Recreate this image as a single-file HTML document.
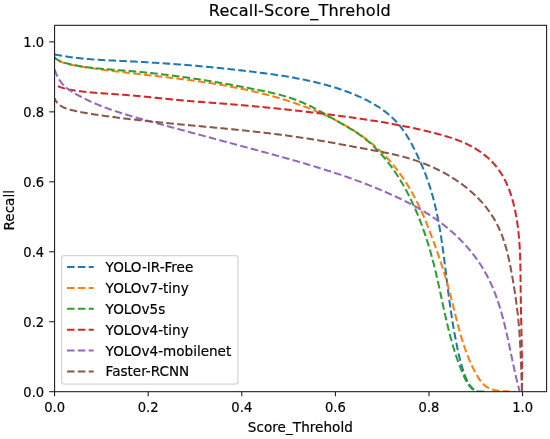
<!DOCTYPE html>
<html><head><meta charset="utf-8"><title>Recall-Score_Threhold</title>
<style>
html,body{margin:0;padding:0;background:#fff;}
svg{display:block;}
text{font-family:"DejaVu Sans","Liberation Sans",sans-serif;fill:#000;stroke:#000;stroke-width:0.18px;}
</style></head><body>
<svg width="550" height="439" viewBox="0 0 550 439">
<rect x="0" y="0" width="550" height="439" fill="#ffffff"/>
<defs><clipPath id="ax"><rect x="54.6" y="25.3" width="492.0" height="366.4"/></clipPath></defs>

<g clip-path="url(#ax)" fill="none" stroke-width="2.03" stroke-dasharray="7.55 3.30" stroke-linejoin="round">
<path d="M54.60,54.40 L56.05,54.70 L57.52,54.99 L59.00,55.27 L60.47,55.54 L61.94,55.80 L63.42,56.05 L64.90,56.29 L66.38,56.53 L67.86,56.75 L69.34,56.96 L70.82,57.17 L72.30,57.37 L73.79,57.56 L75.27,57.74 L76.76,57.92 L78.24,58.08 L79.73,58.24 L81.22,58.40 L82.71,58.55 L84.20,58.69 L85.69,58.82 L87.18,58.95 L88.68,59.08 L90.17,59.20 L91.66,59.31 L93.16,59.42 L94.65,59.53 L96.15,59.63 L97.64,59.73 L99.14,59.82 L100.64,59.91 L102.13,60.00 L103.63,60.08 L105.13,60.16 L106.63,60.24 L108.13,60.32 L109.62,60.40 L111.12,60.47 L112.62,60.54 L114.12,60.61 L115.62,60.68 L117.12,60.75 L118.62,60.82 L120.12,60.89 L121.61,60.96 L123.11,61.03 L124.61,61.10 L126.11,61.17 L127.61,61.24 L129.11,61.31 L130.60,61.38 L132.10,61.46 L133.60,61.54 L135.10,61.61 L136.59,61.69 L138.09,61.77 L139.59,61.85 L141.08,61.94 L142.58,62.02 L144.07,62.10 L145.57,62.19 L147.06,62.28 L148.56,62.36 L150.05,62.45 L151.55,62.54 L153.04,62.64 L154.54,62.73 L156.03,62.82 L157.53,62.92 L159.02,63.02 L160.51,63.12 L162.01,63.21 L163.50,63.32 L164.99,63.42 L166.49,63.52 L167.98,63.63 L169.47,63.73 L170.96,63.84 L172.46,63.95 L173.95,64.06 L175.44,64.17 L176.93,64.28 L178.42,64.39 L179.92,64.51 L181.41,64.62 L182.90,64.74 L184.39,64.86 L185.88,64.98 L187.37,65.10 L188.86,65.22 L190.35,65.35 L191.84,65.47 L193.33,65.60 L194.82,65.73 L196.31,65.86 L197.80,65.99 L199.29,66.12 L200.78,66.25 L202.27,66.39 L203.76,66.52 L205.25,66.66 L206.74,66.80 L208.23,66.94 L209.72,67.08 L211.21,67.22 L212.70,67.37 L214.19,67.51 L215.68,67.66 L217.17,67.81 L218.66,67.96 L220.14,68.11 L221.63,68.26 L223.12,68.41 L224.61,68.57 L226.10,68.73 L227.59,68.88 L229.07,69.04 L230.56,69.21 L232.05,69.37 L233.54,69.53 L235.03,69.70 L236.52,69.86 L238.00,70.03 L239.49,70.20 L240.98,70.37 L242.47,70.54 L243.96,70.72 L245.44,70.89 L246.93,71.07 L248.42,71.25 L249.91,71.43 L251.40,71.61 L252.88,71.79 L254.37,71.98 L255.86,72.16 L257.35,72.35 L258.83,72.54 L260.32,72.73 L261.81,72.92 L263.30,73.12 L264.78,73.31 L266.27,73.51 L267.76,73.71 L269.24,73.91 L270.73,74.12 L272.22,74.33 L273.70,74.54 L275.19,74.75 L276.67,74.97 L278.15,75.19 L279.64,75.42 L281.12,75.64 L282.60,75.87 L284.08,76.11 L285.56,76.35 L287.04,76.59 L288.52,76.84 L290.00,77.09 L291.48,77.34 L292.95,77.60 L294.43,77.86 L295.90,78.13 L297.37,78.41 L298.85,78.69 L300.32,78.97 L301.79,79.26 L303.25,79.55 L304.72,79.85 L306.19,80.16 L307.65,80.47 L309.11,80.78 L310.57,81.11 L312.03,81.44 L313.49,81.77 L314.95,82.11 L316.40,82.46 L317.86,82.82 L319.31,83.18 L320.76,83.55 L322.21,83.92 L323.65,84.30 L325.10,84.69 L326.54,85.09 L327.98,85.50 L329.42,85.91 L330.86,86.33 L332.29,86.76 L333.72,87.19 L335.15,87.64 L336.58,88.09 L338.01,88.55 L339.43,89.02 L340.85,89.49 L342.27,89.98 L343.69,90.48 L345.10,90.98 L346.51,91.50 L347.92,92.02 L349.33,92.55 L350.73,93.09 L352.13,93.64 L353.53,94.21 L354.92,94.78 L356.31,95.36 L357.69,95.96 L359.07,96.56 L360.44,97.18 L361.81,97.81 L363.17,98.45 L364.52,99.10 L365.86,99.77 L367.20,100.44 L368.53,101.14 L369.85,101.84 L371.16,102.56 L372.46,103.29 L373.75,104.04 L375.04,104.80 L376.31,105.58 L377.57,106.37 L378.81,107.17 L380.05,107.99 L381.27,108.83 L382.49,109.69 L383.68,110.56 L384.87,111.44 L386.04,112.35 L387.19,113.27 L388.34,114.20 L389.46,115.16 L390.57,116.13 L391.67,117.12 L392.74,118.13 L393.81,119.16 L394.85,120.21 L395.88,121.28 L396.88,122.37 L397.87,123.47 L398.84,124.60 L399.80,125.75 L400.73,126.91 L401.64,128.10 L402.54,129.30 L403.42,130.52 L404.28,131.76 L405.12,133.01 L405.95,134.28 L406.77,135.55 L407.57,136.85 L408.35,138.15 L409.12,139.46 L409.88,140.79 L410.63,142.12 L411.36,143.46 L412.08,144.81 L412.79,146.16 L413.49,147.52 L414.18,148.89 L414.86,150.26 L415.53,151.63 L416.19,153.00 L416.85,154.37 L417.49,155.74 L418.13,157.11 L418.77,158.49 L419.39,159.86 L420.01,161.23 L420.62,162.60 L421.22,163.97 L421.81,165.34 L422.40,166.71 L422.98,168.09 L423.54,169.46 L424.11,170.84 L424.66,172.22 L425.20,173.60 L425.74,174.98 L426.26,176.37 L426.78,177.76 L427.28,179.15 L427.78,180.54 L428.27,181.94 L428.75,183.34 L429.22,184.75 L429.68,186.15 L430.13,187.57 L430.57,188.98 L431.00,190.40 L431.43,191.82 L431.84,193.24 L432.25,194.67 L432.65,196.10 L433.04,197.54 L433.42,198.97 L433.80,200.41 L434.17,201.85 L434.53,203.30 L434.88,204.74 L435.23,206.19 L435.57,207.64 L435.90,209.10 L436.23,210.56 L436.54,212.01 L436.86,213.47 L437.16,214.94 L437.46,216.40 L437.76,217.87 L438.05,219.34 L438.33,220.81 L438.61,222.28 L438.88,223.76 L439.15,225.23 L439.41,226.71 L439.67,228.19 L439.92,229.67 L440.17,231.15 L440.42,232.63 L440.65,234.12 L440.89,235.61 L441.12,237.09 L441.35,238.58 L441.57,240.07 L441.79,241.56 L442.01,243.05 L442.23,244.54 L442.44,246.03 L442.64,247.53 L442.85,249.02 L443.05,250.52 L443.25,252.01 L443.45,253.51 L443.65,255.00 L443.84,256.50 L444.03,258.00 L444.22,259.49 L444.41,260.99 L444.60,262.49 L444.78,263.98 L444.97,265.48 L445.15,266.98 L445.34,268.47 L445.52,269.97 L445.70,271.46 L445.88,272.96 L446.06,274.45 L446.25,275.95 L446.43,277.44 L446.61,278.93 L446.79,280.43 L446.97,281.92 L447.16,283.41 L447.34,284.90 L447.53,286.39 L447.71,287.88 L447.90,289.36 L448.09,290.85 L448.28,292.33 L448.47,293.82 L448.67,295.30 L448.86,296.78 L449.06,298.26 L449.26,299.74 L449.46,301.22 L449.67,302.69 L449.87,304.17 L450.08,305.64 L450.29,307.12 L450.51,308.59 L450.72,310.06 L450.94,311.54 L451.16,313.01 L451.38,314.48 L451.61,315.95 L451.84,317.42 L452.07,318.89 L452.30,320.35 L452.54,321.82 L452.78,323.29 L453.02,324.76 L453.27,326.22 L453.52,327.69 L453.77,329.16 L454.03,330.62 L454.29,332.09 L454.55,333.55 L454.81,335.02 L455.08,336.49 L455.36,337.95 L455.64,339.42 L455.92,340.88 L456.20,342.35 L456.49,343.81 L456.78,345.28 L457.08,346.75 L457.38,348.21 L457.69,349.68 L458.01,351.15 L458.33,352.61 L458.66,354.08 L459.00,355.54 L459.35,357.01 L459.71,358.47 L460.08,359.94 L460.46,361.40 L460.86,362.87 L461.27,364.33 L461.70,365.79 L462.13,367.25 L462.59,368.71 L463.06,370.17 L463.55,371.63 L464.06,373.09 L464.58,374.55 L465.13,376.00 L465.70,377.44 L466.31,378.85 L466.94,380.24 L467.62,381.60 L468.33,382.90 L469.10,384.16 L469.91,385.35 L470.78,386.48 L471.71,387.52 L472.70,388.48 L473.77,389.35 L474.90,390.12 L476.11,390.77 L477.40,391.31 L478.78,391.70 L480.24,391.70 L481.80,391.70 L483.46,391.70 L485.22,391.70" stroke="#1f77b4"/>
<path d="M54.60,56.99 L55.50,58.18 L56.56,59.22 L57.71,60.11 L58.95,60.88 L60.27,61.55 L61.64,62.12 L63.05,62.63 L64.50,63.07 L65.97,63.47 L67.44,63.85 L68.91,64.21 L70.38,64.56 L71.86,64.89 L73.33,65.20 L74.80,65.50 L76.28,65.79 L77.75,66.07 L79.23,66.33 L80.71,66.59 L82.18,66.83 L83.66,67.07 L85.14,67.30 L86.62,67.52 L88.10,67.74 L89.57,67.95 L91.05,68.16 L92.53,68.37 L94.01,68.57 L95.49,68.77 L96.98,68.97 L98.46,69.17 L99.94,69.37 L101.42,69.56 L102.90,69.76 L104.38,69.95 L105.87,70.14 L107.35,70.33 L108.83,70.51 L110.32,70.70 L111.80,70.88 L113.29,71.07 L114.77,71.25 L116.26,71.43 L117.74,71.61 L119.23,71.79 L120.71,71.96 L122.20,72.14 L123.69,72.31 L125.17,72.49 L126.66,72.66 L128.15,72.84 L129.63,73.01 L131.12,73.18 L132.61,73.35 L134.09,73.52 L135.58,73.69 L137.07,73.86 L138.56,74.03 L140.04,74.20 L141.53,74.37 L143.02,74.54 L144.51,74.71 L146.00,74.88 L147.49,75.05 L148.97,75.22 L150.46,75.39 L151.95,75.56 L153.44,75.73 L154.93,75.91 L156.42,76.08 L157.91,76.25 L159.39,76.42 L160.88,76.60 L162.37,76.77 L163.86,76.95 L165.35,77.12 L166.84,77.30 L168.33,77.48 L169.81,77.66 L171.30,77.84 L172.79,78.02 L174.28,78.20 L175.77,78.38 L177.25,78.57 L178.74,78.76 L180.23,78.94 L181.72,79.13 L183.20,79.33 L184.69,79.52 L186.18,79.71 L187.67,79.91 L189.15,80.11 L190.64,80.31 L192.13,80.51 L193.61,80.72 L195.10,80.92 L196.58,81.13 L198.07,81.34 L199.55,81.55 L201.04,81.77 L202.52,81.99 L204.01,82.21 L205.49,82.43 L206.98,82.66 L208.46,82.89 L209.94,83.12 L211.43,83.35 L212.91,83.59 L214.39,83.83 L215.87,84.07 L217.36,84.31 L218.84,84.56 L220.32,84.81 L221.80,85.07 L223.27,85.32 L224.75,85.59 L226.23,85.85 L227.71,86.12 L229.18,86.39 L230.66,86.66 L232.13,86.94 L233.61,87.22 L235.08,87.51 L236.56,87.80 L238.03,88.09 L239.50,88.39 L240.97,88.69 L242.44,88.99 L243.90,89.30 L245.37,89.61 L246.84,89.93 L248.30,90.25 L249.77,90.57 L251.23,90.90 L252.69,91.23 L254.15,91.57 L255.61,91.91 L257.07,92.26 L258.52,92.61 L259.98,92.96 L261.43,93.32 L262.89,93.68 L264.34,94.05 L265.79,94.43 L267.24,94.80 L268.68,95.19 L270.13,95.58 L271.57,95.97 L273.02,96.37 L274.46,96.77 L275.90,97.18 L277.33,97.59 L278.77,98.01 L280.21,98.43 L281.64,98.86 L283.07,99.30 L284.50,99.74 L285.93,100.18 L287.35,100.64 L288.78,101.09 L290.20,101.55 L291.62,102.02 L293.04,102.50 L294.45,102.98 L295.87,103.46 L297.28,103.95 L298.69,104.45 L300.10,104.95 L301.51,105.46 L302.91,105.98 L304.31,106.50 L305.71,107.03 L307.11,107.56 L308.51,108.10 L309.90,108.65 L311.29,109.21 L312.68,109.77 L314.07,110.33 L315.45,110.91 L316.83,111.49 L318.21,112.07 L319.59,112.67 L320.96,113.27 L322.33,113.87 L323.70,114.49 L325.07,115.11 L326.43,115.74 L327.79,116.37 L329.15,117.02 L330.50,117.67 L331.85,118.33 L333.20,118.99 L334.54,119.67 L335.88,120.35 L337.21,121.04 L338.54,121.73 L339.86,122.44 L341.18,123.15 L342.50,123.87 L343.81,124.60 L345.11,125.34 L346.41,126.09 L347.70,126.84 L348.99,127.61 L350.27,128.38 L351.55,129.16 L352.82,129.95 L354.09,130.75 L355.34,131.56 L356.60,132.37 L357.84,133.20 L359.08,134.04 L360.31,134.88 L361.53,135.74 L362.75,136.60 L363.96,137.47 L365.16,138.36 L366.35,139.25 L367.54,140.16 L368.72,141.07 L369.89,141.99 L371.05,142.93 L372.20,143.87 L373.35,144.82 L374.48,145.79 L375.61,146.76 L376.73,147.75 L377.83,148.75 L378.93,149.75 L380.02,150.77 L381.10,151.80 L382.17,152.84 L383.23,153.89 L384.28,154.96 L385.32,156.03 L386.35,157.11 L387.37,158.21 L388.38,159.31 L389.38,160.43 L390.37,161.56 L391.34,162.69 L392.31,163.84 L393.27,164.99 L394.22,166.16 L395.16,167.33 L396.09,168.51 L397.01,169.70 L397.92,170.90 L398.82,172.11 L399.70,173.32 L400.58,174.55 L401.45,175.78 L402.31,177.01 L403.16,178.26 L404.01,179.51 L404.84,180.77 L405.66,182.03 L406.47,183.30 L407.27,184.58 L408.06,185.86 L408.85,187.15 L409.62,188.45 L410.38,189.74 L411.14,191.05 L411.88,192.36 L412.62,193.67 L413.34,194.99 L414.06,196.31 L414.77,197.64 L415.46,198.97 L416.15,200.30 L416.83,201.64 L417.50,202.98 L418.16,204.32 L418.81,205.66 L419.46,207.01 L420.09,208.36 L420.72,209.72 L421.33,211.07 L421.94,212.43 L422.55,213.79 L423.14,215.15 L423.73,216.52 L424.32,217.89 L424.89,219.26 L425.46,220.63 L426.03,222.01 L426.59,223.39 L427.14,224.77 L427.69,226.15 L428.24,227.53 L428.78,228.92 L429.32,230.30 L429.85,231.69 L430.38,233.09 L430.91,234.48 L431.44,235.88 L431.96,237.27 L432.48,238.67 L433.00,240.07 L433.52,241.48 L434.03,242.88 L434.54,244.29 L435.05,245.70 L435.55,247.10 L436.05,248.52 L436.55,249.93 L437.05,251.34 L437.54,252.76 L438.03,254.18 L438.52,255.60 L439.00,257.02 L439.48,258.44 L439.96,259.86 L440.43,261.29 L440.90,262.71 L441.37,264.14 L441.83,265.57 L442.29,267.00 L442.75,268.43 L443.20,269.87 L443.65,271.30 L444.09,272.74 L444.53,274.18 L444.97,275.61 L445.40,277.05 L445.83,278.50 L446.25,279.94 L446.67,281.38 L447.09,282.83 L447.50,284.27 L447.91,285.72 L448.31,287.17 L448.71,288.62 L449.10,290.07 L449.49,291.52 L449.87,292.97 L450.25,294.42 L450.63,295.88 L451.00,297.33 L451.37,298.79 L451.74,300.24 L452.10,301.70 L452.47,303.16 L452.83,304.61 L453.19,306.07 L453.55,307.53 L453.90,308.98 L454.26,310.44 L454.62,311.89 L454.98,313.35 L455.34,314.80 L455.70,316.26 L456.06,317.71 L456.43,319.16 L456.80,320.61 L457.17,322.07 L457.54,323.51 L457.92,324.96 L458.30,326.41 L458.68,327.85 L459.07,329.30 L459.47,330.74 L459.87,332.18 L460.27,333.61 L460.68,335.05 L461.10,336.48 L461.52,337.91 L461.96,339.34 L462.40,340.77 L462.84,342.19 L463.30,343.61 L463.76,345.03 L464.23,346.45 L464.72,347.86 L465.21,349.27 L465.71,350.68 L466.22,352.08 L466.75,353.48 L467.28,354.87 L467.83,356.27 L468.38,357.65 L468.95,359.04 L469.54,360.42 L470.13,361.80 L470.74,363.17 L471.36,364.54 L472.00,365.90 L472.65,367.26 L473.32,368.61 L474.00,369.96 L474.70,371.31 L475.41,372.65 L476.14,373.98 L476.89,375.31 L477.66,376.62 L478.45,377.92 L479.28,379.18 L480.13,380.41 L481.03,381.60 L481.97,382.73 L482.96,383.82 L483.99,384.84 L485.08,385.79 L486.23,386.67 L487.45,387.46 L488.72,388.16 L490.07,388.77 L491.49,389.27 L492.97,389.69 L494.49,390.03 L496.04,390.31 L497.60,390.54 L499.16,390.73 L500.71,390.90 L502.25,391.04 L503.77,391.16 L505.28,391.26 L506.78,391.35 L508.27,391.43 L509.74,391.50 L511.20,391.57 L512.65,391.63 L514.09,391.69 L515.53,391.70" stroke="#ff7f0e" stroke-dashoffset="5.4"/>
<path d="M54.60,57.77 L55.73,58.66 L56.98,59.46 L58.28,60.18 L59.61,60.83 L60.97,61.42 L62.36,61.96 L63.77,62.44 L65.19,62.89 L66.63,63.31 L68.08,63.70 L69.53,64.07 L70.99,64.42 L72.46,64.74 L73.93,65.05 L75.41,65.34 L76.89,65.62 L78.37,65.88 L79.85,66.13 L81.34,66.36 L82.82,66.59 L84.31,66.81 L85.79,67.02 L87.28,67.22 L88.76,67.41 L90.25,67.60 L91.73,67.77 L93.22,67.94 L94.70,68.11 L96.19,68.27 L97.68,68.42 L99.16,68.56 L100.65,68.71 L102.14,68.84 L103.63,68.98 L105.11,69.11 L106.60,69.23 L108.09,69.35 L109.58,69.47 L111.07,69.59 L112.56,69.71 L114.05,69.82 L115.54,69.94 L117.03,70.05 L118.52,70.16 L120.01,70.28 L121.50,70.39 L122.99,70.51 L124.48,70.63 L125.97,70.74 L127.47,70.86 L128.96,70.99 L130.45,71.11 L131.94,71.24 L133.44,71.37 L134.93,71.51 L136.42,71.64 L137.92,71.78 L139.41,71.92 L140.90,72.06 L142.40,72.20 L143.89,72.35 L145.38,72.50 L146.88,72.65 L148.37,72.80 L149.87,72.96 L151.36,73.12 L152.85,73.28 L154.35,73.44 L155.84,73.61 L157.33,73.77 L158.82,73.94 L160.32,74.12 L161.81,74.29 L163.30,74.47 L164.79,74.64 L166.28,74.82 L167.77,75.01 L169.26,75.19 L170.75,75.38 L172.24,75.57 L173.73,75.76 L175.22,75.95 L176.71,76.15 L178.19,76.35 L179.68,76.55 L181.16,76.75 L182.65,76.95 L184.13,77.16 L185.62,77.37 L187.10,77.58 L188.58,77.79 L190.07,78.01 L191.55,78.22 L193.03,78.44 L194.51,78.66 L195.99,78.89 L197.47,79.11 L198.95,79.34 L200.43,79.57 L201.91,79.80 L203.38,80.03 L204.86,80.27 L206.34,80.50 L207.81,80.74 L209.29,80.98 L210.77,81.22 L212.24,81.47 L213.72,81.71 L215.19,81.96 L216.67,82.21 L218.14,82.46 L219.61,82.71 L221.09,82.97 L222.56,83.23 L224.04,83.48 L225.51,83.75 L226.98,84.01 L228.45,84.27 L229.93,84.54 L231.40,84.80 L232.87,85.07 L234.34,85.34 L235.81,85.61 L237.29,85.89 L238.76,86.16 L240.23,86.44 L241.70,86.72 L243.17,87.00 L244.64,87.28 L246.11,87.56 L247.59,87.85 L249.06,88.14 L250.53,88.42 L252.00,88.71 L253.47,89.00 L254.94,89.30 L256.41,89.59 L257.89,89.89 L259.36,90.18 L260.83,90.48 L262.30,90.79 L263.77,91.09 L265.24,91.40 L266.71,91.72 L268.18,92.04 L269.64,92.36 L271.11,92.70 L272.57,93.04 L274.03,93.38 L275.49,93.74 L276.94,94.10 L278.40,94.47 L279.85,94.85 L281.30,95.24 L282.74,95.64 L284.18,96.06 L285.62,96.48 L287.06,96.91 L288.49,97.36 L289.92,97.82 L291.34,98.29 L292.76,98.77 L294.17,99.27 L295.58,99.78 L296.98,100.30 L298.38,100.83 L299.77,101.38 L301.15,101.94 L302.53,102.52 L303.90,103.11 L305.27,103.71 L306.63,104.33 L307.98,104.97 L309.32,105.62 L310.66,106.28 L311.99,106.95 L313.31,107.64 L314.63,108.34 L315.95,109.04 L317.26,109.76 L318.57,110.48 L319.87,111.21 L321.18,111.95 L322.48,112.69 L323.78,113.44 L325.08,114.18 L326.38,114.93 L327.68,115.68 L328.97,116.43 L330.28,117.18 L331.58,117.93 L332.88,118.67 L334.19,119.41 L335.50,120.15 L336.82,120.89 L338.13,121.62 L339.44,122.35 L340.75,123.09 L342.06,123.83 L343.37,124.57 L344.68,125.31 L345.98,126.06 L347.28,126.81 L348.57,127.57 L349.86,128.34 L351.14,129.12 L352.42,129.91 L353.68,130.70 L354.94,131.51 L356.19,132.33 L357.43,133.17 L358.66,134.02 L359.88,134.88 L361.09,135.76 L362.28,136.66 L363.47,137.57 L364.64,138.49 L365.80,139.43 L366.96,140.38 L368.10,141.34 L369.23,142.32 L370.34,143.31 L371.45,144.32 L372.55,145.33 L373.63,146.36 L374.71,147.40 L375.77,148.45 L376.83,149.52 L377.87,150.59 L378.90,151.68 L379.92,152.78 L380.93,153.88 L381.92,155.00 L382.91,156.13 L383.89,157.26 L384.85,158.41 L385.81,159.57 L386.75,160.73 L387.68,161.90 L388.60,163.08 L389.51,164.27 L390.41,165.47 L391.30,166.67 L392.18,167.89 L393.05,169.10 L393.91,170.33 L394.75,171.56 L395.59,172.80 L396.42,174.05 L397.24,175.30 L398.05,176.56 L398.85,177.82 L399.64,179.10 L400.42,180.37 L401.19,181.65 L401.95,182.94 L402.71,184.23 L403.45,185.52 L404.19,186.82 L404.92,188.13 L405.64,189.44 L406.36,190.75 L407.06,192.07 L407.76,193.40 L408.45,194.72 L409.13,196.06 L409.80,197.39 L410.46,198.73 L411.12,200.08 L411.77,201.43 L412.41,202.78 L413.04,204.14 L413.67,205.50 L414.29,206.86 L414.90,208.23 L415.50,209.60 L416.10,210.97 L416.69,212.35 L417.27,213.73 L417.85,215.12 L418.41,216.50 L418.98,217.89 L419.53,219.29 L420.08,220.68 L420.62,222.08 L421.15,223.49 L421.68,224.89 L422.20,226.30 L422.71,227.71 L423.22,229.12 L423.72,230.54 L424.22,231.96 L424.71,233.38 L425.19,234.80 L425.67,236.22 L426.14,237.65 L426.60,239.08 L427.06,240.51 L427.51,241.94 L427.96,243.38 L428.40,244.81 L428.84,246.25 L429.27,247.69 L429.69,249.13 L430.11,250.57 L430.52,252.02 L430.93,253.46 L431.33,254.91 L431.73,256.36 L432.12,257.81 L432.51,259.26 L432.89,260.71 L433.27,262.16 L433.65,263.61 L434.01,265.06 L434.38,266.52 L434.74,267.97 L435.09,269.42 L435.44,270.88 L435.79,272.33 L436.13,273.79 L436.47,275.25 L436.80,276.70 L437.14,278.16 L437.47,279.62 L437.79,281.08 L438.12,282.54 L438.44,283.99 L438.76,285.45 L439.08,286.91 L439.40,288.37 L439.71,289.83 L440.03,291.29 L440.34,292.75 L440.65,294.21 L440.96,295.67 L441.28,297.13 L441.59,298.59 L441.90,300.05 L442.21,301.51 L442.52,302.97 L442.84,304.43 L443.15,305.88 L443.46,307.34 L443.78,308.80 L444.10,310.26 L444.42,311.72 L444.74,313.17 L445.06,314.63 L445.39,316.09 L445.72,317.54 L446.05,319.00 L446.39,320.46 L446.72,321.91 L447.06,323.37 L447.41,324.82 L447.76,326.27 L448.11,327.72 L448.47,329.18 L448.83,330.63 L449.20,332.08 L449.57,333.53 L449.94,334.98 L450.32,336.42 L450.71,337.87 L451.10,339.32 L451.50,340.76 L451.91,342.21 L452.32,343.65 L452.74,345.09 L453.16,346.54 L453.59,347.98 L454.03,349.41 L454.48,350.85 L454.93,352.29 L455.40,353.73 L455.87,355.16 L456.35,356.59 L456.83,358.03 L457.33,359.46 L457.83,360.89 L458.35,362.31 L458.87,363.74 L459.40,365.17 L459.94,366.59 L460.50,368.01 L461.06,369.43 L461.63,370.85 L462.21,372.27 L462.81,373.69 L463.41,375.10 L464.03,376.51 L464.67,377.90 L465.33,379.27 L466.02,380.61 L466.74,381.92 L467.49,383.18 L468.29,384.39 L469.12,385.55 L470.01,386.64 L470.94,387.67 L471.93,388.61 L472.98,389.47 L474.09,390.24 L475.27,390.91 L476.52,391.47 L477.85,391.70 L479.25,391.70 L480.74,391.70 L482.32,391.70 L483.99,391.70 L485.75,391.70 L487.62,391.70" stroke="#2ca02c"/>
<path d="M54.60,85.00 L55.97,85.57 L57.37,86.11 L58.78,86.62 L60.20,87.10 L61.62,87.55 L63.06,87.97 L64.50,88.36 L65.94,88.73 L67.40,89.08 L68.85,89.41 L70.32,89.71 L71.79,89.99 L73.26,90.26 L74.74,90.51 L76.22,90.74 L77.70,90.96 L79.19,91.16 L80.67,91.35 L82.17,91.53 L83.66,91.70 L85.15,91.86 L86.65,92.01 L88.14,92.15 L89.64,92.30 L91.13,92.43 L92.63,92.56 L94.12,92.69 L95.62,92.81 L97.12,92.93 L98.61,93.05 L100.11,93.16 L101.60,93.27 L103.10,93.38 L104.60,93.49 L106.09,93.60 L107.59,93.70 L109.08,93.80 L110.58,93.91 L112.07,94.01 L113.57,94.11 L115.06,94.21 L116.56,94.32 L118.05,94.42 L119.55,94.53 L121.04,94.63 L122.53,94.74 L124.03,94.85 L125.52,94.97 L127.01,95.09 L128.51,95.21 L130.00,95.33 L131.49,95.45 L132.98,95.58 L134.47,95.71 L135.96,95.85 L137.46,95.98 L138.95,96.12 L140.44,96.26 L141.93,96.40 L143.42,96.54 L144.91,96.69 L146.40,96.84 L147.89,96.98 L149.38,97.13 L150.87,97.28 L152.36,97.43 L153.85,97.58 L155.34,97.73 L156.83,97.88 L158.32,98.03 L159.81,98.19 L161.30,98.34 L162.79,98.49 L164.28,98.64 L165.77,98.79 L167.26,98.94 L168.75,99.09 L170.24,99.24 L171.74,99.38 L173.23,99.53 L174.72,99.68 L176.21,99.82 L177.70,99.96 L179.19,100.10 L180.69,100.24 L182.18,100.37 L183.67,100.51 L185.16,100.64 L186.66,100.77 L188.15,100.90 L189.65,101.02 L191.14,101.15 L192.63,101.27 L194.13,101.40 L195.62,101.52 L197.12,101.64 L198.61,101.76 L200.11,101.88 L201.60,101.99 L203.10,102.11 L204.59,102.23 L206.09,102.34 L207.58,102.46 L209.08,102.57 L210.57,102.69 L212.07,102.80 L213.56,102.92 L215.06,103.03 L216.55,103.15 L218.05,103.26 L219.54,103.38 L221.04,103.49 L222.53,103.61 L224.03,103.73 L225.52,103.84 L227.02,103.96 L228.51,104.08 L230.01,104.20 L231.50,104.32 L232.99,104.44 L234.49,104.57 L235.98,104.69 L237.48,104.82 L238.97,104.94 L240.46,105.07 L241.96,105.20 L243.45,105.33 L244.94,105.46 L246.43,105.59 L247.93,105.72 L249.42,105.86 L250.91,105.99 L252.40,106.13 L253.90,106.26 L255.39,106.40 L256.88,106.54 L258.37,106.68 L259.86,106.82 L261.35,106.96 L262.85,107.10 L264.34,107.25 L265.83,107.39 L267.32,107.54 L268.81,107.69 L270.30,107.84 L271.79,107.99 L273.28,108.14 L274.77,108.29 L276.26,108.44 L277.75,108.59 L279.24,108.75 L280.73,108.90 L282.22,109.06 L283.71,109.22 L285.20,109.38 L286.69,109.53 L288.18,109.70 L289.67,109.86 L291.16,110.02 L292.64,110.18 L294.13,110.35 L295.62,110.51 L297.11,110.68 L298.60,110.85 L300.09,111.02 L301.57,111.19 L303.06,111.36 L304.55,111.53 L306.04,111.70 L307.53,111.88 L309.01,112.05 L310.50,112.23 L311.99,112.40 L313.48,112.58 L314.96,112.76 L316.45,112.94 L317.94,113.12 L319.43,113.30 L320.91,113.48 L322.40,113.67 L323.89,113.85 L325.37,114.04 L326.86,114.23 L328.35,114.41 L329.83,114.60 L331.32,114.79 L332.80,114.98 L334.29,115.17 L335.78,115.37 L337.26,115.56 L338.75,115.75 L340.23,115.95 L341.72,116.15 L343.21,116.35 L344.69,116.54 L346.18,116.75 L347.66,116.95 L349.15,117.15 L350.63,117.36 L352.12,117.56 L353.60,117.77 L355.08,117.98 L356.57,118.19 L358.05,118.40 L359.53,118.62 L361.02,118.83 L362.50,119.05 L363.98,119.27 L365.46,119.49 L366.95,119.72 L368.43,119.94 L369.91,120.17 L371.39,120.40 L372.87,120.64 L374.35,120.87 L375.83,121.11 L377.31,121.35 L378.79,121.59 L380.26,121.83 L381.74,122.08 L383.22,122.33 L384.70,122.58 L386.17,122.84 L387.65,123.10 L389.12,123.36 L390.60,123.62 L392.07,123.89 L393.54,124.16 L395.02,124.43 L396.49,124.70 L397.96,124.98 L399.43,125.26 L400.90,125.55 L402.37,125.84 L403.84,126.13 L405.31,126.42 L406.78,126.72 L408.24,127.02 L409.71,127.33 L411.18,127.63 L412.64,127.95 L414.11,128.26 L415.57,128.58 L417.03,128.90 L418.49,129.23 L419.95,129.56 L421.41,129.90 L422.87,130.24 L424.33,130.58 L425.79,130.92 L427.25,131.28 L428.70,131.63 L430.16,131.99 L431.61,132.35 L433.06,132.72 L434.52,133.09 L435.97,133.47 L437.42,133.85 L438.87,134.24 L440.32,134.63 L441.76,135.03 L443.21,135.43 L444.65,135.85 L446.08,136.27 L447.52,136.70 L448.95,137.14 L450.38,137.60 L451.80,138.06 L453.22,138.54 L454.64,139.03 L456.05,139.53 L457.45,140.05 L458.85,140.59 L460.25,141.14 L461.63,141.71 L463.01,142.29 L464.39,142.90 L465.75,143.52 L467.11,144.16 L468.46,144.82 L469.80,145.51 L471.14,146.21 L472.46,146.94 L473.78,147.69 L475.08,148.47 L476.37,149.26 L477.65,150.08 L478.91,150.91 L480.16,151.77 L481.40,152.65 L482.62,153.55 L483.82,154.47 L485.01,155.41 L486.17,156.37 L487.32,157.35 L488.45,158.35 L489.55,159.37 L490.64,160.41 L491.70,161.47 L492.74,162.54 L493.75,163.64 L494.74,164.76 L495.70,165.89 L496.64,167.05 L497.55,168.22 L498.43,169.41 L499.29,170.61 L500.12,171.83 L500.93,173.07 L501.72,174.33 L502.48,175.59 L503.22,176.88 L503.93,178.17 L504.63,179.48 L505.30,180.81 L505.95,182.14 L506.58,183.49 L507.18,184.85 L507.77,186.22 L508.34,187.60 L508.89,188.99 L509.42,190.38 L509.93,191.79 L510.43,193.21 L510.91,194.63 L511.37,196.06 L511.81,197.50 L512.24,198.94 L512.65,200.39 L513.04,201.84 L513.43,203.30 L513.79,204.77 L514.15,206.23 L514.48,207.70 L514.81,209.18 L515.13,210.65 L515.43,212.13 L515.72,213.60 L516.00,215.08 L516.26,216.56 L516.52,218.04 L516.76,219.52 L517.00,221.00 L517.22,222.49 L517.44,223.97 L517.64,225.46 L517.84,226.94 L518.02,228.43 L518.20,229.92 L518.37,231.41 L518.53,232.89 L518.68,234.38 L518.82,235.88 L518.96,237.37 L519.09,238.86 L519.21,240.35 L519.32,241.85 L519.42,243.34 L519.52,244.83 L519.62,246.33 L519.71,247.83 L519.79,249.32 L519.86,250.82 L519.93,252.32 L520.00,253.81 L520.06,255.31 L520.11,256.81 L520.17,258.31 L520.21,259.81 L520.26,261.31 L520.30,262.81 L520.33,264.31 L520.37,265.81 L520.40,267.31 L520.42,268.81 L520.45,270.31 L520.47,271.81 L520.49,273.31 L520.51,274.81 L520.53,276.31 L520.55,277.81 L520.56,279.31 L520.58,280.81 L520.59,282.31 L520.61,283.81 L520.62,285.32 L520.64,286.82 L520.65,288.32 L520.67,289.82 L520.68,291.32 L520.70,292.82 L520.72,294.32 L520.74,295.82 L520.76,297.31 L520.79,298.81 L520.81,300.31 L520.84,301.81 L520.86,303.31 L520.89,304.81 L520.91,306.31 L520.94,307.80 L520.97,309.30 L521.00,310.80 L521.03,312.30 L521.06,313.80 L521.09,315.29 L521.12,316.79 L521.15,318.29 L521.18,319.78 L521.21,321.28 L521.24,322.78 L521.28,324.28 L521.31,325.77 L521.34,327.27 L521.37,328.77 L521.40,330.26 L521.44,331.76 L521.47,333.26 L521.50,334.75 L521.53,336.25 L521.56,337.75 L521.59,339.24 L521.62,340.74 L521.65,342.24 L521.68,343.74 L521.71,345.23 L521.73,346.73 L521.76,348.23 L521.79,349.72 L521.81,351.22 L521.84,352.72 L521.86,354.22 L521.88,355.71 L521.91,357.21 L521.93,358.71 L521.95,360.21 L521.96,361.71 L521.98,363.20 L522.00,364.70 L522.01,366.20 L522.02,367.70 L522.04,369.20 L522.05,370.70 L522.06,372.20 L522.06,373.70 L522.07,375.20 L522.07,376.70 L522.07,378.20 L522.08,379.70 L522.07,381.20 L522.07,382.70 L522.07,384.20 L522.06,385.70 L522.05,387.21 L522.04,388.71 L522.02,390.21 L522.01,391.70" stroke="#d62728" stroke-dashoffset="7.4"/>
<path d="M54.62,69.50 L55.12,70.92 L55.66,72.32 L56.24,73.72 L56.86,75.11 L57.52,76.47 L58.23,77.81 L58.98,79.12 L59.78,80.40 L60.63,81.63 L61.53,82.83 L62.48,83.97 L63.49,85.07 L64.54,86.11 L65.64,87.11 L66.78,88.06 L67.96,88.97 L69.17,89.84 L70.41,90.69 L71.67,91.51 L72.95,92.30 L74.24,93.07 L75.55,93.82 L76.86,94.57 L78.17,95.30 L79.49,96.01 L80.82,96.72 L82.15,97.41 L83.48,98.09 L84.82,98.77 L86.16,99.43 L87.51,100.08 L88.86,100.71 L90.22,101.34 L91.58,101.96 L92.94,102.57 L94.31,103.17 L95.68,103.76 L97.06,104.33 L98.44,104.91 L99.82,105.47 L101.21,106.02 L102.60,106.57 L103.99,107.10 L105.39,107.63 L106.79,108.15 L108.19,108.67 L109.59,109.17 L111.00,109.67 L112.41,110.16 L113.83,110.65 L115.24,111.13 L116.66,111.60 L118.08,112.07 L119.50,112.53 L120.93,112.99 L122.36,113.44 L123.78,113.89 L125.21,114.33 L126.65,114.77 L128.08,115.20 L129.52,115.63 L130.95,116.06 L132.39,116.48 L133.83,116.89 L135.27,117.31 L136.71,117.72 L138.16,118.13 L139.60,118.54 L141.04,118.94 L142.49,119.34 L143.93,119.74 L145.38,120.14 L146.83,120.54 L148.27,120.94 L149.72,121.33 L151.16,121.73 L152.61,122.12 L154.06,122.52 L155.50,122.91 L156.95,123.30 L158.40,123.70 L159.84,124.09 L161.29,124.48 L162.74,124.87 L164.18,125.26 L165.63,125.66 L167.07,126.05 L168.52,126.44 L169.97,126.83 L171.41,127.22 L172.86,127.61 L174.30,128.00 L175.75,128.39 L177.19,128.78 L178.64,129.17 L180.08,129.56 L181.53,129.95 L182.97,130.34 L184.42,130.72 L185.86,131.11 L187.31,131.50 L188.75,131.89 L190.20,132.28 L191.64,132.67 L193.09,133.05 L194.53,133.44 L195.98,133.83 L197.42,134.22 L198.87,134.60 L200.31,134.99 L201.76,135.38 L203.20,135.77 L204.65,136.15 L206.09,136.54 L207.54,136.93 L208.98,137.31 L210.43,137.70 L211.87,138.09 L213.31,138.47 L214.76,138.86 L216.20,139.25 L217.65,139.64 L219.09,140.02 L220.54,140.41 L221.98,140.80 L223.43,141.18 L224.87,141.57 L226.31,141.96 L227.76,142.34 L229.20,142.73 L230.65,143.12 L232.09,143.51 L233.54,143.89 L234.98,144.28 L236.43,144.67 L237.87,145.06 L239.31,145.45 L240.76,145.83 L242.20,146.22 L243.65,146.61 L245.09,147.00 L246.54,147.39 L247.98,147.78 L249.43,148.17 L250.87,148.56 L252.32,148.95 L253.76,149.34 L255.21,149.73 L256.65,150.12 L258.10,150.51 L259.54,150.90 L260.99,151.29 L262.43,151.68 L263.88,152.07 L265.32,152.46 L266.77,152.86 L268.21,153.25 L269.65,153.64 L271.10,154.04 L272.54,154.43 L273.99,154.83 L275.43,155.23 L276.87,155.62 L278.32,156.02 L279.76,156.42 L281.20,156.82 L282.65,157.22 L284.09,157.63 L285.53,158.03 L286.97,158.43 L288.42,158.84 L289.86,159.25 L291.30,159.65 L292.74,160.06 L294.18,160.47 L295.62,160.89 L297.06,161.30 L298.50,161.72 L299.93,162.13 L301.37,162.55 L302.81,162.97 L304.25,163.39 L305.68,163.82 L307.12,164.24 L308.55,164.67 L309.99,165.10 L311.42,165.53 L312.86,165.96 L314.29,166.40 L315.72,166.83 L317.15,167.27 L318.58,167.71 L320.01,168.16 L321.44,168.60 L322.87,169.05 L324.30,169.50 L325.72,169.95 L327.15,170.41 L328.57,170.87 L330.00,171.33 L331.42,171.79 L332.84,172.25 L334.27,172.72 L335.69,173.19 L337.11,173.66 L338.53,174.14 L339.94,174.62 L341.36,175.10 L342.78,175.58 L344.19,176.07 L345.61,176.56 L347.02,177.05 L348.43,177.55 L349.84,178.05 L351.25,178.55 L352.66,179.06 L354.07,179.57 L355.47,180.08 L356.88,180.60 L358.28,181.12 L359.68,181.64 L361.09,182.16 L362.49,182.69 L363.88,183.23 L365.28,183.76 L366.68,184.30 L368.07,184.85 L369.47,185.40 L370.86,185.95 L372.25,186.50 L373.64,187.06 L375.03,187.63 L376.41,188.20 L377.80,188.77 L379.18,189.34 L380.57,189.92 L381.95,190.51 L383.33,191.10 L384.70,191.69 L386.08,192.28 L387.45,192.89 L388.83,193.49 L390.20,194.10 L391.57,194.72 L392.93,195.34 L394.30,195.96 L395.66,196.59 L397.02,197.23 L398.38,197.87 L399.74,198.51 L401.09,199.16 L402.44,199.82 L403.78,200.48 L405.12,201.15 L406.46,201.83 L407.80,202.51 L409.13,203.20 L410.46,203.89 L411.79,204.59 L413.11,205.30 L414.42,206.01 L415.73,206.74 L417.04,207.46 L418.35,208.20 L419.64,208.94 L420.94,209.69 L422.23,210.45 L423.51,211.22 L424.79,211.99 L426.06,212.77 L427.33,213.56 L428.59,214.36 L429.85,215.17 L431.10,215.98 L432.35,216.81 L433.58,217.64 L434.82,218.48 L436.04,219.33 L437.26,220.19 L438.47,221.06 L439.68,221.94 L440.88,222.82 L442.07,223.72 L443.26,224.63 L444.44,225.55 L445.61,226.47 L446.77,227.41 L447.92,228.36 L449.07,229.31 L450.21,230.28 L451.34,231.26 L452.47,232.25 L453.58,233.25 L454.69,234.26 L455.79,235.28 L456.88,236.31 L457.95,237.35 L459.03,238.40 L460.09,239.46 L461.14,240.53 L462.18,241.61 L463.21,242.70 L464.24,243.79 L465.25,244.90 L466.25,246.02 L467.24,247.14 L468.23,248.28 L469.20,249.42 L470.16,250.57 L471.11,251.73 L472.04,252.90 L472.97,254.08 L473.88,255.27 L474.79,256.46 L475.68,257.66 L476.56,258.88 L477.43,260.09 L478.28,261.32 L479.12,262.56 L479.95,263.80 L480.77,265.05 L481.57,266.31 L482.37,267.57 L483.14,268.85 L483.91,270.13 L484.66,271.41 L485.40,272.71 L486.12,274.01 L486.83,275.32 L487.53,276.63 L488.21,277.95 L488.88,279.28 L489.53,280.62 L490.17,281.96 L490.80,283.30 L491.42,284.66 L492.02,286.02 L492.61,287.38 L493.19,288.75 L493.76,290.12 L494.31,291.51 L494.86,292.89 L495.39,294.28 L495.91,295.68 L496.43,297.08 L496.93,298.48 L497.42,299.89 L497.91,301.30 L498.38,302.72 L498.84,304.14 L499.30,305.57 L499.75,307.00 L500.18,308.43 L500.61,309.87 L501.04,311.31 L501.45,312.75 L501.86,314.20 L502.26,315.65 L502.65,317.10 L503.04,318.55 L503.42,320.01 L503.80,321.47 L504.17,322.93 L504.53,324.39 L504.89,325.86 L505.24,327.32 L505.59,328.79 L505.93,330.26 L506.27,331.74 L506.61,333.21 L506.94,334.68 L507.27,336.16 L507.60,337.63 L507.92,339.11 L508.24,340.59 L508.56,342.06 L508.87,343.54 L509.18,345.02 L509.49,346.50 L509.80,347.97 L510.11,349.45 L510.42,350.93 L510.73,352.40 L511.04,353.88 L511.34,355.35 L511.65,356.83 L511.96,358.30 L512.26,359.77 L512.57,361.24 L512.88,362.71 L513.19,364.18 L513.51,365.64 L513.82,367.10 L514.14,368.56 L514.46,370.02 L514.78,371.48 L515.10,372.93 L515.43,374.38 L515.76,375.83 L516.10,377.27 L516.44,378.72 L516.78,380.16 L517.13,381.59 L517.48,383.02 L517.84,384.45 L518.20,385.88 L518.57,387.30 L518.95,388.71 L519.33,390.12 L519.71,391.53" stroke="#9467bd"/>
<path d="M54.60,98.25 L55.17,99.72 L55.95,101.06 L56.83,102.28 L57.80,103.38 L58.85,104.38 L59.98,105.28 L61.18,106.09 L62.44,106.82 L63.75,107.47 L65.10,108.06 L66.49,108.59 L67.91,109.07 L69.36,109.51 L70.83,109.90 L72.31,110.27 L73.81,110.61 L75.30,110.93 L76.80,111.25 L78.29,111.55 L79.78,111.85 L81.27,112.13 L82.75,112.41 L84.24,112.68 L85.72,112.95 L87.20,113.20 L88.68,113.45 L90.16,113.70 L91.63,113.94 L93.11,114.17 L94.59,114.40 L96.06,114.63 L97.54,114.85 L99.01,115.07 L100.49,115.29 L101.97,115.50 L103.44,115.71 L104.92,115.92 L106.40,116.13 L107.88,116.33 L109.36,116.54 L110.84,116.74 L112.32,116.93 L113.80,117.13 L115.29,117.32 L116.77,117.52 L118.25,117.71 L119.74,117.89 L121.22,118.08 L122.71,118.27 L124.19,118.45 L125.68,118.63 L127.17,118.81 L128.66,118.99 L130.14,119.16 L131.63,119.34 L133.12,119.51 L134.61,119.68 L136.10,119.85 L137.59,120.02 L139.08,120.19 L140.57,120.35 L142.06,120.51 L143.55,120.68 L145.04,120.84 L146.54,121.00 L148.03,121.16 L149.52,121.32 L151.01,121.47 L152.51,121.63 L154.00,121.78 L155.49,121.94 L156.99,122.09 L158.48,122.24 L159.98,122.39 L161.47,122.54 L162.96,122.69 L164.46,122.84 L165.95,122.98 L167.45,123.13 L168.94,123.27 L170.44,123.42 L171.93,123.56 L173.43,123.71 L174.93,123.85 L176.42,123.99 L177.92,124.14 L179.41,124.28 L180.91,124.42 L182.40,124.56 L183.90,124.70 L185.40,124.84 L186.89,124.98 L188.39,125.12 L189.88,125.26 L191.38,125.40 L192.87,125.54 L194.37,125.68 L195.86,125.82 L197.36,125.96 L198.85,126.09 L200.35,126.23 L201.84,126.37 L203.34,126.51 L204.83,126.65 L206.33,126.79 L207.82,126.93 L209.31,127.07 L210.81,127.21 L212.30,127.35 L213.79,127.49 L215.29,127.64 L216.78,127.78 L218.27,127.92 L219.76,128.06 L221.26,128.21 L222.75,128.35 L224.24,128.50 L225.73,128.64 L227.22,128.79 L228.71,128.93 L230.21,129.08 L231.70,129.23 L233.19,129.38 L234.68,129.53 L236.17,129.68 L237.66,129.83 L239.15,129.98 L240.64,130.14 L242.13,130.29 L243.62,130.45 L245.11,130.60 L246.59,130.76 L248.08,130.92 L249.57,131.08 L251.06,131.24 L252.55,131.40 L254.04,131.56 L255.53,131.73 L257.01,131.89 L258.50,132.06 L259.99,132.23 L261.48,132.40 L262.96,132.57 L264.45,132.74 L265.94,132.92 L267.42,133.09 L268.91,133.27 L270.40,133.45 L271.88,133.63 L273.37,133.81 L274.85,134.00 L276.34,134.18 L277.82,134.37 L279.31,134.56 L280.80,134.75 L282.28,134.94 L283.77,135.14 L285.25,135.33 L286.73,135.53 L288.22,135.73 L289.70,135.94 L291.19,136.14 L292.67,136.35 L294.15,136.55 L295.64,136.77 L297.12,136.98 L298.61,137.19 L300.09,137.41 L301.57,137.63 L303.05,137.85 L304.54,138.08 L306.02,138.30 L307.50,138.53 L308.98,138.76 L310.47,139.00 L311.95,139.23 L313.43,139.47 L314.91,139.72 L316.39,139.96 L317.88,140.21 L319.36,140.46 L320.84,140.71 L322.32,140.96 L323.80,141.22 L325.28,141.48 L326.76,141.74 L328.24,142.00 L329.72,142.27 L331.20,142.54 L332.68,142.80 L334.16,143.07 L335.64,143.35 L337.12,143.62 L338.60,143.89 L340.08,144.17 L341.55,144.44 L343.03,144.72 L344.51,144.99 L345.99,145.27 L347.46,145.54 L348.94,145.82 L350.42,146.10 L351.89,146.37 L353.37,146.65 L354.84,146.92 L356.32,147.20 L357.79,147.47 L359.26,147.74 L360.74,148.01 L362.21,148.28 L363.68,148.55 L365.15,148.81 L366.62,149.08 L368.09,149.35 L369.56,149.61 L371.03,149.88 L372.50,150.15 L373.96,150.42 L375.43,150.69 L376.89,150.97 L378.36,151.25 L379.82,151.53 L381.29,151.81 L382.75,152.10 L384.21,152.39 L385.67,152.69 L387.13,152.99 L388.58,153.29 L390.04,153.61 L391.49,153.92 L392.95,154.25 L394.40,154.58 L395.85,154.92 L397.30,155.27 L398.75,155.62 L400.19,155.98 L401.64,156.36 L403.08,156.74 L404.53,157.13 L405.97,157.53 L407.40,157.94 L408.84,158.36 L410.28,158.79 L411.71,159.23 L413.14,159.69 L414.57,160.15 L416.00,160.63 L417.43,161.12 L418.85,161.62 L420.27,162.14 L421.69,162.66 L423.10,163.20 L424.51,163.75 L425.92,164.31 L427.32,164.89 L428.71,165.47 L430.11,166.07 L431.50,166.67 L432.88,167.30 L434.26,167.93 L435.63,168.57 L437.00,169.23 L438.36,169.89 L439.71,170.57 L441.06,171.26 L442.40,171.97 L443.74,172.68 L445.07,173.41 L446.39,174.15 L447.70,174.90 L449.01,175.66 L450.30,176.43 L451.59,177.22 L452.87,178.02 L454.15,178.83 L455.41,179.65 L456.66,180.48 L457.91,181.33 L459.14,182.18 L460.37,183.05 L461.58,183.93 L462.79,184.82 L463.98,185.73 L465.17,186.64 L466.34,187.57 L467.50,188.51 L468.65,189.46 L469.79,190.43 L470.91,191.40 L472.03,192.39 L473.13,193.39 L474.22,194.40 L475.30,195.42 L476.36,196.46 L477.41,197.50 L478.44,198.56 L479.47,199.63 L480.48,200.71 L481.47,201.81 L482.45,202.91 L483.42,204.03 L484.37,205.16 L485.30,206.30 L486.22,207.45 L487.12,208.62 L488.01,209.80 L488.88,210.99 L489.74,212.19 L490.58,213.40 L491.40,214.62 L492.21,215.86 L493.00,217.11 L493.77,218.37 L494.52,219.64 L495.25,220.92 L495.97,222.22 L496.67,223.53 L497.35,224.85 L498.01,226.18 L498.65,227.52 L499.28,228.87 L499.88,230.24 L500.47,231.62 L501.04,233.00 L501.59,234.40 L502.13,235.80 L502.65,237.22 L503.16,238.64 L503.65,240.07 L504.13,241.51 L504.59,242.95 L505.04,244.40 L505.48,245.86 L505.90,247.32 L506.31,248.79 L506.71,250.27 L507.10,251.74 L507.48,253.23 L507.85,254.71 L508.20,256.20 L508.55,257.70 L508.89,259.19 L509.21,260.69 L509.53,262.19 L509.85,263.69 L510.15,265.19 L510.45,266.70 L510.74,268.20 L511.03,269.70 L511.30,271.20 L511.58,272.70 L511.85,274.20 L512.11,275.69 L512.37,277.19 L512.63,278.68 L512.88,280.16 L513.13,281.65 L513.38,283.13 L513.62,284.61 L513.86,286.09 L514.10,287.56 L514.33,289.03 L514.56,290.50 L514.79,291.97 L515.01,293.44 L515.23,294.90 L515.45,296.37 L515.66,297.83 L515.87,299.30 L516.07,300.76 L516.27,302.22 L516.46,303.68 L516.66,305.15 L516.84,306.61 L517.03,308.07 L517.21,309.54 L517.38,311.00 L517.55,312.47 L517.72,313.94 L517.88,315.41 L518.04,316.88 L518.19,318.35 L518.34,319.82 L518.48,321.30 L518.62,322.78 L518.76,324.26 L518.89,325.75 L519.01,327.24 L519.13,328.73 L519.25,330.22 L519.36,331.71 L519.47,333.21 L519.57,334.71 L519.67,336.21 L519.77,337.71 L519.87,339.22 L519.96,340.72 L520.04,342.23 L520.13,343.73 L520.21,345.24 L520.29,346.75 L520.36,348.26 L520.44,349.77 L520.51,351.28 L520.57,352.79 L520.64,354.31 L520.70,355.82 L520.77,357.33 L520.83,358.84 L520.89,360.35 L520.94,361.86 L521.00,363.37 L521.06,364.87 L521.11,366.38 L521.16,367.89 L521.22,369.39 L521.27,370.89 L521.32,372.39 L521.37,373.89 L521.42,375.39 L521.47,376.88 L521.52,378.38 L521.57,379.87 L521.62,381.36 L521.67,382.84 L521.73,384.32 L521.78,385.80 L521.83,387.28 L521.89,388.75 L521.94,390.22 L522.00,391.69" stroke="#8c564b" stroke-dashoffset="2"/>
</g>
<g stroke="#111" stroke-width="1.02" fill="none">
<line x1="54.60" y1="391.7" x2="54.60" y2="396.2"/>
<line x1="54.6" y1="391.70" x2="49.2" y2="391.70"/>
<line x1="148.20" y1="391.7" x2="148.20" y2="396.2"/>
<line x1="54.6" y1="321.74" x2="49.2" y2="321.74"/>
<line x1="241.80" y1="391.7" x2="241.80" y2="396.2"/>
<line x1="54.6" y1="251.78" x2="49.2" y2="251.78"/>
<line x1="335.40" y1="391.7" x2="335.40" y2="396.2"/>
<line x1="54.6" y1="181.82" x2="49.2" y2="181.82"/>
<line x1="429.00" y1="391.7" x2="429.00" y2="396.2"/>
<line x1="54.6" y1="111.86" x2="49.2" y2="111.86"/>
<line x1="522.60" y1="391.7" x2="522.60" y2="396.2"/>
<line x1="54.6" y1="41.90" x2="49.2" y2="41.90"/>
<rect x="54.6" y="25.3" width="492.0" height="366.4"/>
</g>
<g font-size="13.55px">
<text x="44.15" y="412.15" textLength="20.9" lengthAdjust="spacingAndGlyphs">0.0</text>
<text x="23.30" y="397.20" textLength="20.9" lengthAdjust="spacingAndGlyphs">0.0</text>
<text x="137.75" y="412.15" textLength="20.9" lengthAdjust="spacingAndGlyphs">0.2</text>
<text x="23.30" y="327.24" textLength="20.9" lengthAdjust="spacingAndGlyphs">0.2</text>
<text x="231.35" y="412.15" textLength="20.9" lengthAdjust="spacingAndGlyphs">0.4</text>
<text x="23.30" y="257.28" textLength="20.9" lengthAdjust="spacingAndGlyphs">0.4</text>
<text x="324.95" y="412.15" textLength="20.9" lengthAdjust="spacingAndGlyphs">0.6</text>
<text x="23.30" y="187.32" textLength="20.9" lengthAdjust="spacingAndGlyphs">0.6</text>
<text x="418.55" y="412.15" textLength="20.9" lengthAdjust="spacingAndGlyphs">0.8</text>
<text x="23.30" y="117.36" textLength="20.9" lengthAdjust="spacingAndGlyphs">0.8</text>
<text x="512.15" y="412.15" textLength="20.9" lengthAdjust="spacingAndGlyphs">1.0</text>
<text x="23.30" y="47.40" textLength="20.9" lengthAdjust="spacingAndGlyphs">1.0</text>
<text x="247.8" y="432.0" textLength="105.05" lengthAdjust="spacing">Score_Threhold</text>
<text transform="translate(14.3,210.30) rotate(-90)" text-anchor="middle">Recall</text>
</g>
<text x="208.8" y="15.5" font-size="16.1px" textLength="182" lengthAdjust="spacing">Recall-Score_Threhold</text>
<rect x="61.6" y="255.7" width="176.4" height="128.5" rx="2.7" ry="2.7" fill="#fff" fill-opacity="0.8" stroke="#ccc" stroke-opacity="0.85" stroke-width="1.25"/>
<g font-size="13.55px">
<line x1="67.0" y1="267.10" x2="93.7" y2="267.10" stroke="#1f77b4" stroke-width="2.03" stroke-dasharray="7.55 3.3"/>
<text x="105.6" y="272.05">YOLO-IR-Free</text>
<line x1="67.0" y1="287.97" x2="93.7" y2="287.97" stroke="#ff7f0e" stroke-width="2.03" stroke-dasharray="7.55 3.3"/>
<text x="105.6" y="292.92">YOLOv7-tiny</text>
<line x1="67.0" y1="308.84" x2="93.7" y2="308.84" stroke="#2ca02c" stroke-width="2.03" stroke-dasharray="7.55 3.3"/>
<text x="105.6" y="313.79">YOLOv5s</text>
<line x1="67.0" y1="329.71" x2="93.7" y2="329.71" stroke="#d62728" stroke-width="2.03" stroke-dasharray="7.55 3.3"/>
<text x="105.6" y="334.66">YOLOv4-tiny</text>
<line x1="67.0" y1="350.58" x2="93.7" y2="350.58" stroke="#9467bd" stroke-width="2.03" stroke-dasharray="7.55 3.3"/>
<text x="105.6" y="355.53">YOLOv4-mobilenet</text>
<line x1="67.0" y1="371.45" x2="93.7" y2="371.45" stroke="#8c564b" stroke-width="2.03" stroke-dasharray="7.55 3.3"/>
<text x="105.6" y="376.40">Faster-RCNN</text>
</g>
</svg></body></html>
